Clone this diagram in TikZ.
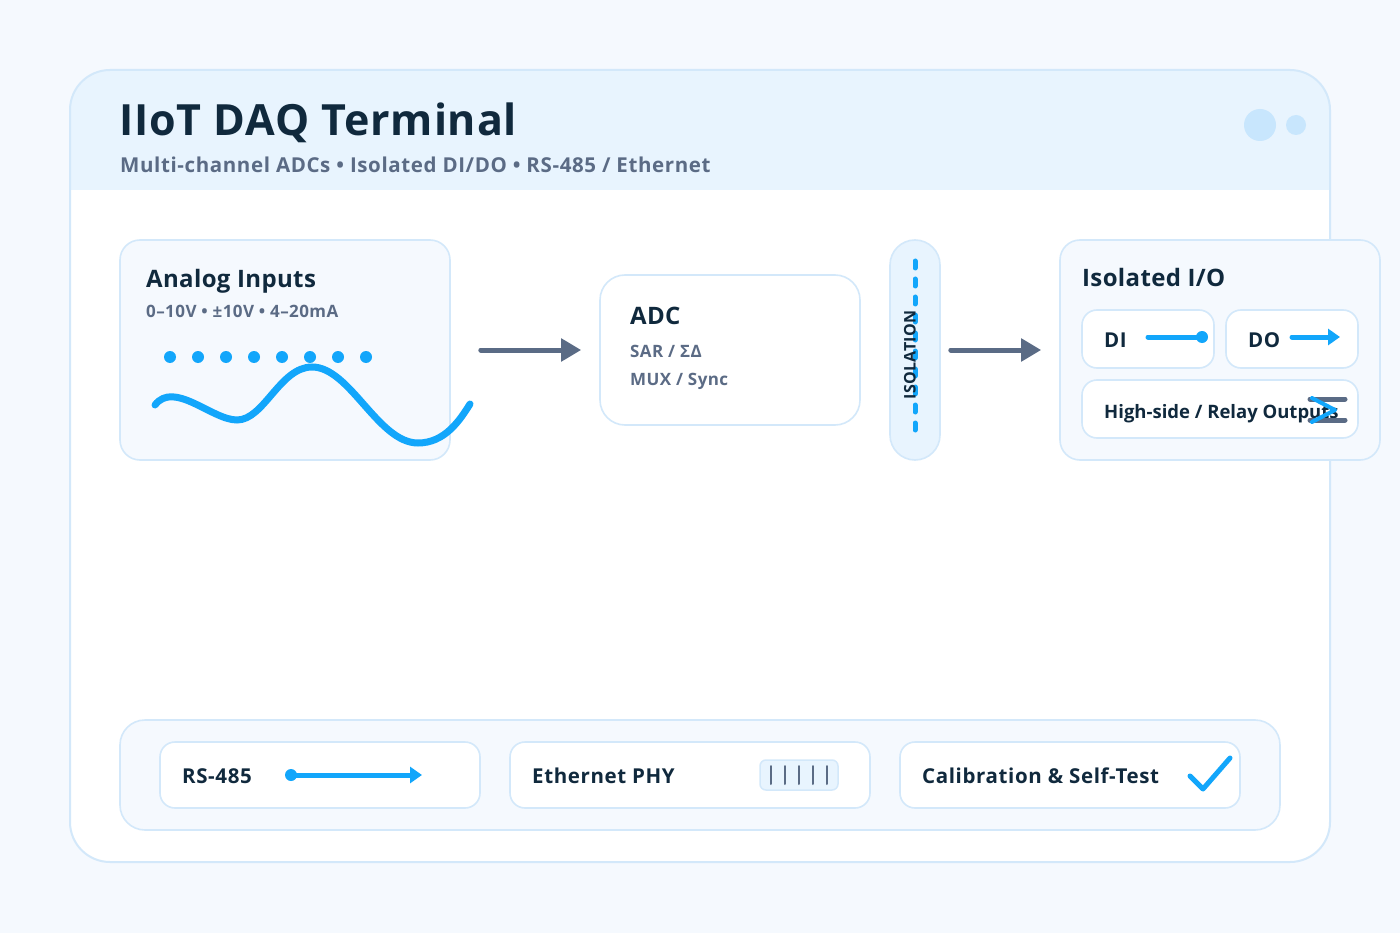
\documentclass[tikz,border=0pt]{standalone}
\usepackage{fontspec}
\setmainfont{Open Sans}
\usetikzlibrary{arrows.meta}

\definecolor{pagebg}{HTML}{F5F9FE}
\definecolor{headbg}{HTML}{E8F4FE}
\definecolor{edge}{HTML}{D3E8FA}
\definecolor{ink}{HTML}{10293D}
\definecolor{slate}{HTML}{5B6B85}
\definecolor{sig}{HTML}{12A6FB}
\definecolor{dotc}{HTML}{C8E6FD}
\definecolor{flowc}{HTML}{5A6B85}

\newcommand\spaced[2]{\bfseries\fontsize{#1}{#1}\selectfont\addfontfeatures{LetterSpace=#2}}

\tikzset{
  panel/.style={draw=edge, line width=1.6pt, fill=pagebg, rounded corners=20pt},
  chip/.style={draw=edge, line width=1.6pt, fill=white, rounded corners=15pt},
  head/.style={font=\spaced{24}{1.5}, text=ink, anchor=base west, inner sep=0pt},
  note/.style={font=\spaced{17}{2.5}, text=slate, anchor=base west, inner sep=0pt},
  tag/.style={font=\spaced{20.5}{3}, text=ink, anchor=base west, inner sep=0pt},
  flow/.style={flowc, line width=5pt, line cap=round, -{Triangle[length=20pt,width=22pt]}},
  wire/.style={sig, line width=5pt, line cap=round},
}

\begin{document}
\begin{tikzpicture}[x=1pt, y=-1pt]

  % ================= page =================
  \useasboundingbox (0,0) rectangle (1400,933);
  \fill[pagebg] (0,0) rectangle (1400,933);

  % ================= terminal card =================
  \begin{scope}
    \clip[rounded corners=40pt] (70,70) rectangle (1330,862);
    \fill[white]  (70,70) rectangle (1330,862);
    \fill[headbg] (70,70) rectangle (1330,190);
  \end{scope}
  \draw[edge, line width=2pt, rounded corners=40pt] (70,70) rectangle (1330,862);

  \node[font=\spaced{43}{2}, text=ink, anchor=base west, inner sep=0pt]
      (title) at (119,136) {IIoT DAQ Terminal};
  \node[font=\spaced{20.5}{3}, text=slate, anchor=base west, inner sep=0pt]
      (subtitle) at (120,173) {Multi-channel ADCs • Isolated DI/DO • RS-485 / Ethernet};
  \fill[dotc] (1260,125) circle (16pt);
  \fill[dotc] (1296,125) circle (10pt);

  % ================= analog inputs =================
  \node[panel, minimum width=330pt, minimum height=220pt] (ain) at (285,350) {};
  \node[head] (ainT) at (146,288) {Analog Inputs};
  \node[note] (ainS) at (146,317) {0–10V • ±10V • 4–20mA};
  \foreach \i in {0,...,7}
    \fill[sig] (170+28*\i,357) circle (6pt);
  \draw[sig, line width=7pt, line cap=round]
      (155,405) .. controls (174,380) and (212,420) .. (237,420)
                .. controls (264,420) and (280,367) .. (312,367)
                .. controls (350,367) and (378,443) .. (418,443)
                .. controls (445,443) and (460,420) .. (470,404);

  % ================= adc =================
  \node[chip, rounded corners=25pt, minimum width=260pt, minimum height=150pt] (adc) at (730,350) {};
  \node[head] (adcT) at (630,324) {ADC};
  \node[note] (adcS) at (630,357) {SAR / ΣΔ};
  \node[note] (adcM) at (630,385) {MUX / Sync};

  % ================= isolation barrier =================
  \node[draw=edge, line width=1.6pt, fill=headbg, rounded corners=25pt,
        minimum width=50pt, minimum height=220pt] (iso) at (915,350) {};
  \draw[sig, line width=5pt, line cap=round, dash pattern=on 7pt off 11pt] (915,261) -- (915,438);
  \node[font=\spaced{16}{2}, text=ink, rotate=90, inner sep=0pt]
      (isoT) at (910,355) {ISOLATION};

  % ================= isolated i/o =================
  \node[panel, minimum width=320pt, minimum height=220pt] (iob) at (1220,350) {};
  \node[head] (iobT) at (1082,287) {Isolated I/O};
  \node[chip, minimum width=132pt, minimum height=58pt] (di) at (1148,339) {};
  \node[tag] (diT) at (1104,347) {DI};
  \draw[wire] (1148,337) -- (1200,337);
  \fill[sig] (1202,337) circle (6pt);
  \node[chip, minimum width=132pt, minimum height=58pt] (do) at (1292,339) {};
  \node[tag] (doT) at (1248,347) {DO};
  \draw[wire, -{Triangle[length=12pt,width=16pt]}] (1292,337) -- (1340,337);
  \node[chip, minimum width=276pt, minimum height=58pt] (hs) at (1220,409) {};
  \node[note, font=\spaced{18.5}{0}, text=ink] (hsT) at (1104,418) {High-side / Relay Outputs};
  \draw[flowc, line width=5pt, line cap=round] (1310,399) -- (1345,399);
  \draw[flowc, line width=5pt, line cap=round] (1310,420) -- (1345,420);
  \draw[sig, line width=4pt, line cap=round, line join=round] (1312,398) -- (1335,410) -- (1312,422);

  % ================= arrows =================
  \draw[flow] ([xshift=30pt]ain.east) -- ([xshift=-18pt]adc.west);
  \draw[flow] ([xshift=10pt]iso.east) -- ([xshift=-18pt]iob.west);

  % ================= interfaces =================
  \node[panel, rounded corners=25pt, minimum width=1160pt, minimum height=110pt] (bus) at (700,775) {};
  % rs-485
  \node[chip, minimum width=320pt, minimum height=66pt] (rs) at (320,775) {};
  \node[tag] (rsT) at (182,783) {RS-485};
  \draw[wire, -{Triangle[length=12pt,width=16pt]}] (291,775) -- (422,775);
  \fill[sig] (291,775) circle (6pt);
  % ethernet
  \node[chip, minimum width=360pt, minimum height=66pt] (eth) at (690,775) {};
  \node[tag] (ethT) at (532,783) {Ethernet PHY};
  \node[draw=edge, line width=1.5pt, fill=headbg, rounded corners=6pt,
        minimum width=78pt, minimum height=30pt] (rj) at (799,775) {};
  \foreach \i in {0,...,4}
    \draw[flowc, line width=2pt, line cap=round] (771+14*\i,766) -- (771+14*\i,784);
  % calibration
  \node[chip, minimum width=340pt, minimum height=66pt] (cal) at (1070,775) {};
  \node[tag] (calT) at (922,783) {Calibration \& Self-Test};
  \draw[sig, line width=5pt, line cap=round, line join=round] (1190,776) -- (1203,789) -- (1230,758);

\end{tikzpicture}
\end{document}
